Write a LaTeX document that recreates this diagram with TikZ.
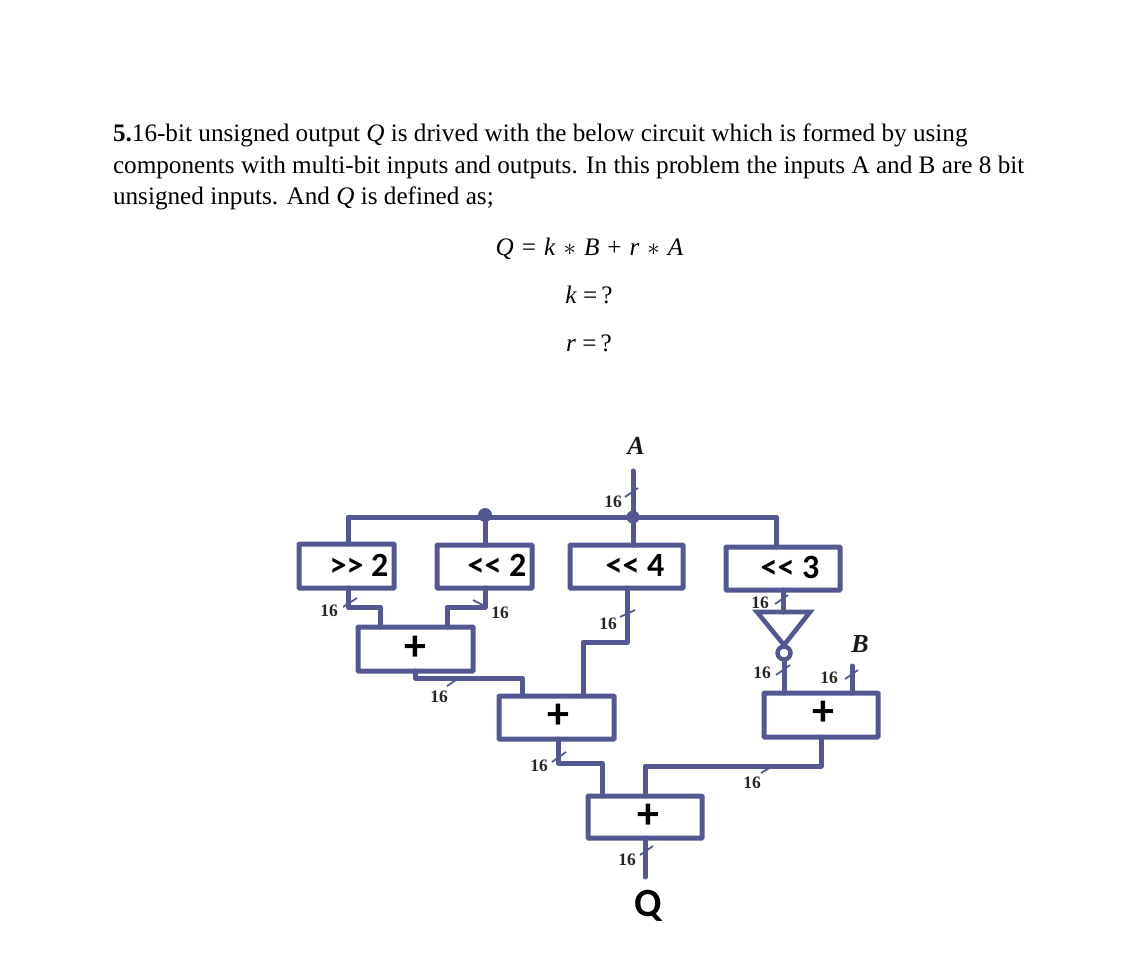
\documentclass[tikz,border=0pt]{standalone}
\usepackage{fontspec}
\setmainfont{Liberation Serif}
\newfontfamily\carl{Carlito}
\definecolor{wire}{RGB}{84,88,146}
\tikzset{
  x=1pt,y=-1pt,
  prose/.style={anchor=base west,inner sep=0,outer sep=0,font=\fontsize{25.2}{30}\selectfont},
  eqn/.style={anchor=base,inner sep=0,outer sep=0,font=\fontsize{25.2}{30}\selectfont},
  wirepath/.style={draw=wire,line width=5pt,line join=round,line cap=round},
  box/.style={draw=wire,line width=5pt,rectangle,inner sep=0,outer sep=0,rounded corners=.6pt},
  tick/.style={draw=wire,line width=1.8pt},
  bits/.style={inner sep=0,outer sep=0,text=black!85,font=\fontsize{17.5}{18}\bfseries\selectfont},
  oplabel/.style={inner sep=0,outer sep=0,text=black,font=\fontsize{34}{36}\carl\bfseries\selectfont},
  pluslabel/.style={inner sep=0,outer sep=0,text=black,font=\fontsize{44}{46}\carl\bfseries\selectfont},
  pinname/.style={inner sep=0,outer sep=0,text=black!90,font=\fontsize{26}{27}\bfseries\itshape\selectfont},
}
\begin{document}
\begin{tikzpicture}
\useasboundingbox (0,0) rectangle (1148,959);
% Prose
\node[prose] (l1) at (113,141) {\textbf{5.}16-bit unsigned output \textit{Q} is drived with the below circuit which is formed by using};
\node[prose] (l2) at (113,173) {components with multi-bit inputs and outputs. In this problem the inputs A and B are 8 bit};
\node[prose] (l3) at (113,204) {unsigned inputs. And \textit{Q} is defined as;};
\node[eqn] (e1) at (589.5,255) {\spaceskip=8pt \textit{Q} = \textit{k} $*$ \textit{B} + \textit{r} $*$ \textit{A}};
\node[eqn] (e2) at (589,303) {\textit{k} =\hspace{4pt}?};
\node[eqn] (e3) at (589,351) {\textit{r} =\hspace{4pt}?};
% Boxes
\node[box,minimum width=95pt,minimum height=44pt] (shr2) at (346.5,566) {};
\node[box,minimum width=95pt,minimum height=43pt] (shl2) at (484.5,566.5) {};
\node[box,minimum width=113pt,minimum height=43pt] (shl4) at (626.5,566.5) {};
\node[box,minimum width=114pt,minimum height=43pt] (shl3) at (783,568.5) {};
\node[box,minimum width=115pt,minimum height=44pt] (add1) at (415.5,649) {};
\node[box,minimum width=115pt,minimum height=43pt] (add2) at (556.5,717.5) {};
\node[box,minimum width=114pt,minimum height=44pt] (add3) at (821,715) {};
\node[box,minimum width=114pt,minimum height=42pt] (add4) at (645,817) {};
% Box texts
\node[oplabel] (t1) at (359,565) {>{}> 2};
\node[oplabel] (t2) at (497,565) {<{}< 2};
\node[oplabel] (t3) at (635,565) {<{}< 4};
\node[oplabel] (t4) at (790,567) {<{}< 3};
\node[pluslabel] (p1) at (415,648) {+};
\node[pluslabel] (p2) at (558,716) {+};
\node[pluslabel] (p3) at (823,713) {+};
\node[pluslabel] (p4) at (648,816) {+};
% Free ends and junctions
\coordinate (inA) at (633,471);
\coordinate (jA) at (633,517);
\coordinate (jL) at (485,517);
\coordinate (busL) at (348,517);
\coordinate (busR) at (776,517);
\coordinate (inB) at (852,666);
\coordinate (outQ) at (645,877);
% Top bus
\draw[wirepath] (shr2.north -| busL) -- (busL) -- (busR) -- (shl3.north -| busR);
\draw[wirepath] (inA) -- (shl4.north -| inA);
\draw[wirepath] (jL) -- (shl2.north -| jL);
\fill[wire] (485,515) circle (7pt);
\fill[wire] (jA) circle (6.5pt);
% Adders first stage
\coordinate (a1) at (348,607);
\coordinate (a2) at (380,607);
\coordinate (b1) at (485,607);
\coordinate (b2) at (447,607);
\draw[wirepath] (shr2.south -| a1) -- (a1) -- (a2) -- (add1.north -| a2);
\draw[wirepath] (shl2.south -| b1) -- (b1) -- (b2) -- (add1.north -| b2);
\coordinate (c1) at (415,678);
\coordinate (c2) at (522,678);
\draw[wirepath] (add1.south -| c1) -- (c1) -- (c2) -- (add2.north -| c2);
\coordinate (d1) at (627,642);
\coordinate (d2) at (583,642);
\draw[wirepath] (shl4.south -| d1) -- (d1) -- (d2) -- (add2.north -| d2);
% Inverter
\coordinate (n1) at (783,612);
\coordinate (invL) at (757,612);
\coordinate (invR) at (810,612);
\coordinate (invT) at (784,645);
\draw[wirepath] (shl3.south -| n1) -- (n1);
\draw[wirepath,line width=4.6pt,line join=miter] (invL) -- (invR) -- (invT) -- cycle;
\node[circle,draw=wire,fill=white,line width=4.4pt,minimum size=13pt,inner sep=0,outer sep=0] (bub) at (784,653) {};
\draw[wirepath] (bub.south) -- (bub.south |- add3.north);
\draw[wirepath] (inB) -- (add3.north -| inB);
% Final stage
\coordinate (e1a) at (558,763);
\coordinate (e2a) at (602,763);
\draw[wirepath] (add2.south -| e1a) -- (e1a) -- (e2a) -- (add4.north -| e2a);
\coordinate (f1) at (821,766);
\coordinate (f2) at (645,766);
\draw[wirepath] (add3.south -| f1) -- (f1) -- (f2) -- (add4.north -| f2);
\draw[wirepath] (add4.south -| outQ) -- (outQ);
% Bus ticks
\draw[tick] (625,497) -- (638,488);
\draw[tick] (343,607) -- (357,598);
\draw[tick] (473,600) -- (487,607);
\draw[tick] (447,686) -- (456,680);
\draw[tick] (620,617) -- (635,610);
\draw[tick] (775,604) -- (788,595);
\draw[tick] (776,675) -- (790,665);
\draw[tick] (845,679) -- (858,670);
\draw[tick] (552,762) -- (566,752);
\draw[tick] (761,773) -- (771,767);
\draw[tick] (640,855) -- (653,846);
% Width labels
\node[bits] (w1) at (613,502) {16};
\node[bits] (w2) at (329,611) {16};
\node[bits] (w3) at (500,613) {16};
\node[bits] (w4) at (608,624) {16};
\node[bits] (w5) at (760,603) {16};
\node[bits] (w6) at (762,673) {16};
\node[bits] (w7) at (829,678) {16};
\node[bits] (w8) at (439,697) {16};
\node[bits] (w9) at (539,766) {16};
\node[bits] (w10) at (752,783) {16};
\node[bits] (w11) at (627,860) {16};
% Pin names
\node[pinname] (A) at (636,446) {A};
\node[pinname] (B) at (860,644) {B};
\node[inner sep=0,outer sep=0,font=\fontsize{40}{42}\carl\bfseries\selectfont] (Q) at (648,906) {Q};
\end{tikzpicture}
\end{document}
